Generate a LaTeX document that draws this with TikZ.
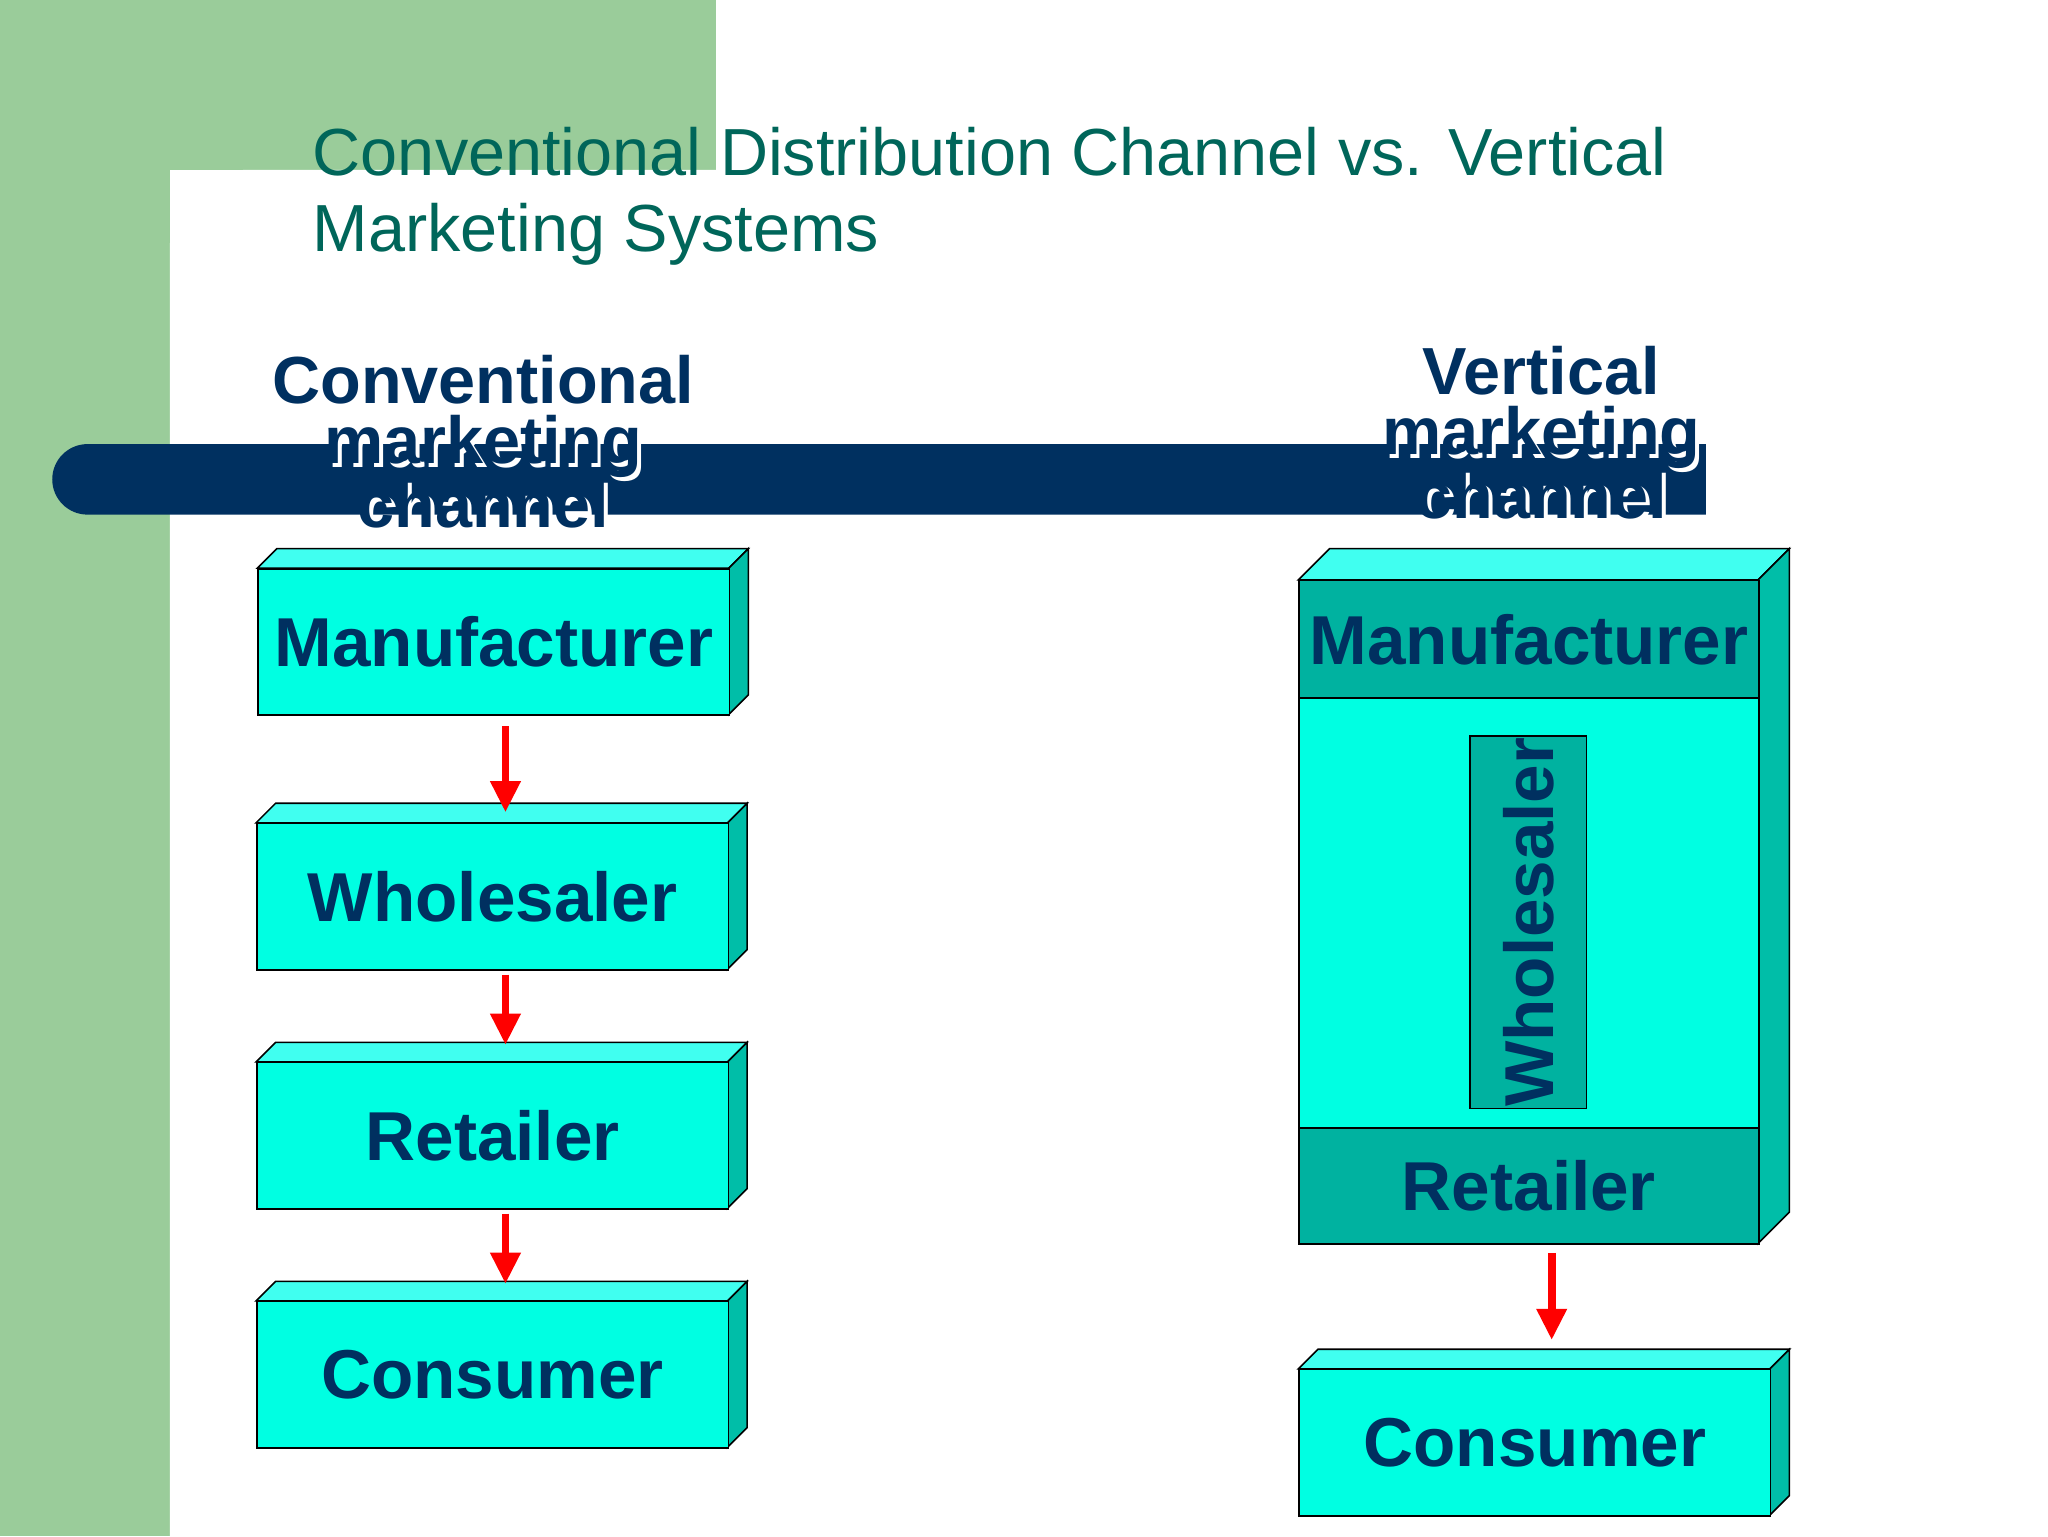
\documentclass[tikz,border=0pt]{standalone}
\usepackage{fontspec}
\setmainfont{Liberation Sans}
\usetikzlibrary{arrows.meta}
\definecolor{bggreen}{RGB}{154,204,154}
\definecolor{navy}{RGB}{0,48,96}
\definecolor{titlec}{RGB}{0,102,90}
\definecolor{cyanf}{RGB}{0,255,226}
\definecolor{cyant}{RGB}{64,255,240}
\definecolor{cyans}{RGB}{0,190,168}
\definecolor{darkt}{RGB}{0,178,160}
\newcommand\mybox[6]{% name, x1,y1,x2,y2, depth
  \fill[cyant,draw=black,line width=1.2pt] (#2,#3)--++(#6,-#6)--(#4+#6,#3-#6)--(#4,#3)--cycle;
  \fill[cyans,draw=black,line width=1.2pt] (#4,#3)--(#4+#6,#3-#6)--(#4+#6,#5-#6)--(#4,#5)--cycle;
  \node[draw=black,line width=1.2pt,fill=cyanf,minimum width={(#4-#2)*1pt},minimum height={(#5-#3)*1pt},anchor=north west,inner sep=0] (#1) at (#2,#3) {};
}
\tikzset{x=1pt,y=-1pt,
  lbl/.style={font=\fontsize{53}{53}\selectfont\bfseries,text=navy},
  hdr/.style={font=\fontsize{51}{46}\selectfont\bfseries,text=navy,align=center},
  arr/.style={red,line width=6pt,-{Triangle[length=24pt,width=22pt]}}}
\begin{document}
\begin{tikzpicture}
\useasboundingbox (0,0) rectangle (1568,1176);
\fill[white] (0,0) rectangle (1568,1176);
\fill[bggreen] (0,0) rectangle (548,130);
\fill[bggreen] (0,0) rectangle (130,1176);
\begin{scope}
\clip (0,0) rectangle (548,1176);
\fill[white,rounded corners=60pt] (130,130) rectangle (700,1300);
\end{scope}
\node[anchor=west,text=titlec,font=\fontsize{51}{58}\selectfont,align=left] (title) at (236,150) {Conventional Distribution Channel vs. Vertical\\Marketing Systems};
\fill[navy] (67,340) -- (1306,340) -- (1306,394) -- (67,394) arc[start angle=90,end angle=270,radius=27] -- cycle;
\node[hdr,text=white] at (373,341) {Conventional\\marketing\\channel};
\node[hdr] (h1) at (370,338) {Conventional\\marketing\\channel};
\node[hdr,text=white] at (1183,334) {Vertical\\marketing\\channel};
\node[hdr] (h2) at (1180,331) {Vertical\\marketing\\channel};
% left column
\mybox{m}{197}{435}{558}{547}{15}
\mybox{w}{196}{630}{557}{742}{15}
\mybox{r}{196}{813}{557}{925}{15}
\mybox{c}{196}{996}{557}{1108}{15}
\node[lbl] at (m.center) {Manufacturer};
\node[lbl] at (w.center) {Wholesaler};
\node[lbl] at (r.center) {Retailer};
\node[lbl] at (c.center) {Consumer};
\coordinate (ax) at (387,0);
\draw[arr] ([yshift=-8pt]ax |- m.south) -- ([yshift=8pt]ax |- w.north);
\draw[arr] ([yshift=-3pt]ax |- w.south) -- ([yshift=13pt]ax |- r.north);
\draw[arr] ([yshift=-3pt]ax |- r.south) -- ([yshift=13pt]ax |- c.north);
% right column
\mybox{vm}{994}{444}{1346}{952}{24}
\node[draw=black,line width=1.2pt,fill=darkt,minimum width=352pt,minimum height=90pt,anchor=north west,inner sep=0,lbl] (vman) at (994,444) {Manufacturer};
\node[draw=black,line width=1.2pt,fill=darkt,minimum width=352pt,minimum height=89pt,anchor=north west,inner sep=0,lbl] (vret) at (994,863) {Retailer};
\node[draw=black,line width=1.2pt,fill=darkt,minimum width=89pt,minimum height=285pt,anchor=north west,inner sep=0] (vwh) at (1125,563) {};
\node[lbl,rotate=90] at (vwh.center) {Wholesaler};
\mybox{vc}{994}{1048}{1355}{1160}{15}
\node[lbl] at (vc.center) {Consumer};
\coordinate (bx) at (1188,0);
\draw[arr] ([yshift=-6pt]bx |- vret.south) -- ([yshift=22pt]bx |- vc.north);
\end{tikzpicture}
\end{document}
